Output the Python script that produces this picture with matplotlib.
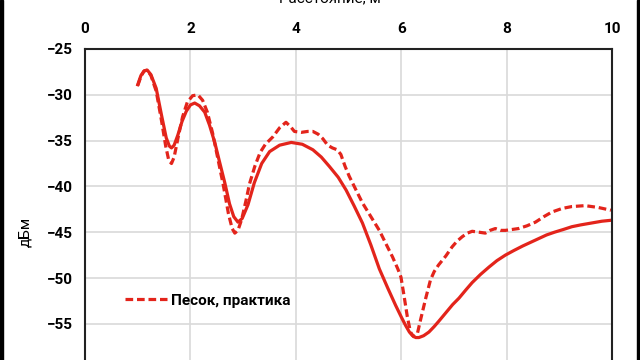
import matplotlib as mpl
mpl.use("Agg")
import matplotlib.pyplot as plt
from matplotlib.patches import Rectangle

# distance, m  /  level, dBm
x_theory = [1.00, 1.06, 1.12, 1.18, 1.25, 1.35, 1.45, 1.54, 1.60, 1.64, 1.69,
            1.76, 1.84, 1.92, 2.00, 2.08, 2.17, 2.27, 2.36, 2.46, 2.55, 2.65,
            2.74, 2.82, 2.90, 2.98, 3.09, 3.21, 3.35, 3.50, 3.69, 3.91, 4.12,
            4.32, 4.48, 4.63, 4.80, 4.95, 5.10, 5.26, 5.42, 5.58, 5.74, 5.89,
            6.00, 6.08, 6.15, 6.21, 6.27, 6.33, 6.42, 6.52, 6.62, 6.71, 6.84,
            6.97, 7.09, 7.22, 7.34, 7.50, 7.66, 7.81, 7.97, 8.13, 8.30, 8.45,
            8.60, 8.75, 8.90, 9.07, 9.23, 9.40, 9.60, 9.80, 9.97]
y_theory = [-28.9, -27.9, -27.4, -27.3, -27.8, -29.3, -32.2, -34.7, -35.6, -35.8,
            -35.5, -34.4, -32.9, -31.8, -31.1, -30.9, -31.2, -31.9, -33.3, -35.2,
            -37.3, -39.6, -41.9, -43.3, -43.9, -43.5, -42.0, -39.6, -37.5, -36.2,
            -35.5, -35.2, -35.4, -36.0, -36.8, -37.8, -39.0, -40.4, -42.1, -44.0,
            -46.4, -49.0, -51.1, -53.0, -54.3, -55.2, -55.9, -56.3, -56.5, -56.5,
            -56.3, -55.9, -55.3, -54.7, -53.8, -52.9, -52.2, -51.3, -50.5, -49.6,
            -48.8, -48.1, -47.5, -47.0, -46.5, -46.1, -45.7, -45.3, -45.0, -44.7,
            -44.4, -44.2, -44.0, -43.8, -43.7]

x_practice = [1.00, 1.06, 1.12, 1.18, 1.25, 1.35, 1.45, 1.53, 1.59, 1.64, 1.69,
              1.76, 1.85, 1.94, 2.04, 2.14, 2.23, 2.32, 2.42, 2.52, 2.62, 2.72,
              2.79, 2.84, 2.90, 2.97, 3.05, 3.12, 3.22, 3.32, 3.42, 3.56, 3.69,
              3.81, 3.90, 3.97, 4.10, 4.22, 4.32, 4.42, 4.51, 4.60, 4.69, 4.78,
              4.85, 4.93, 5.01, 5.13, 5.26, 5.42, 5.58, 5.70, 5.83, 5.93, 5.99,
              6.05, 6.11, 6.17, 6.23, 6.30, 6.36, 6.46, 6.55, 6.62, 6.70, 6.84,
              6.96, 7.05, 7.15, 7.25, 7.34, 7.47, 7.59, 7.68, 7.78, 7.88, 7.97,
              8.10, 8.22, 8.38, 8.54, 8.70, 8.85, 9.05, 9.23, 9.48, 9.73, 9.97]
y_practice = [-29.0, -28.0, -27.4, -27.3, -27.9, -29.6, -32.8, -35.6, -37.2, -37.5,
              -36.8, -34.8, -32.4, -30.8, -30.1, -30.0, -30.6, -31.9, -34.2, -37.0,
              -39.8, -43.0, -44.6, -45.1, -44.8, -43.6, -41.6, -39.7, -37.8, -36.3,
              -35.4, -34.6, -33.6, -33.0, -33.5, -34.0, -34.1, -34.0, -34.0, -34.3,
              -34.8, -35.5, -35.8, -36.0, -36.5, -37.8, -38.9, -40.3, -41.8, -43.3,
              -44.8, -46.2, -47.7, -49.0, -49.9, -52.0, -54.2, -55.9, -56.4, -56.1,
              -54.6, -52.2, -50.2, -49.3, -48.6, -47.6, -46.6, -46.0, -45.5, -45.1,
              -44.9, -45.0, -45.1, -44.8, -44.6, -44.8, -44.8, -44.7, -44.6, -44.3,
              -43.9, -43.3, -42.8, -42.4, -42.2, -42.1, -42.3, -42.6]

x_ticks = [0, 2, 4, 6, 8, 10]
y_ticks = [-25, -30, -35, -40, -45, -50, -55]

RED = "#e3241b"
FS = 10.5

plt.rcParams.update({"font.family": ["Roboto", "DejaVu Sans"], "font.size": FS,
                     "font.weight": "bold"})

fig = plt.figure(figsize=(6.4, 3.6), dpi=100)
ax = fig.add_axes([0.1328, -0.0267, 0.8242, 0.8906])

ax.plot(x_theory, y_theory, color=RED, lw=2.3)
ax.plot(x_practice, y_practice, color=RED, lw=2.3, ls=(0, (2.4, 1.2)),
        label="Песок, практика")

ax.set_xlim(0, 10)
ax.set_ylim(-60, -25)
ax.set_xticks(x_ticks)
ax.set_yticks(y_ticks)
ax.xaxis.tick_top()
ax.xaxis.set_label_position("top")
ax.tick_params(length=0, labelsize=FS + 0.5, pad=9)
ax.grid(True, color="#d9d9d9", lw=1.2)
ax.set_axisbelow(True)
for side in ("left", "top", "right"):
    ax.spines[side].set_linewidth(1.5)
    ax.spines[side].set_color("#222222")

ax.set_xlabel("Расстояние, м", fontsize=FS + 0.5)
ax.xaxis.set_label_coords(0.465, 1.145)
ax.set_ylabel("дБм", fontsize=FS + 0.5)
ax.yaxis.set_label_coords(-0.1, 0.428)

ax.legend(loc="center left", bbox_to_anchor=(0.075, 0.215), frameon=False,
          handlelength=2.75, handletextpad=0.3, borderpad=0, borderaxespad=0,
          prop={"size": FS + 0.5, "weight": "bold"})

# dark screen edges at both sides of the capture
fig.patches.append(Rectangle((0, 0), 3 / 640, 1, transform=fig.transFigure,
                             color="black", zorder=10))
fig.patches.append(Rectangle((637 / 640, 0), 3 / 640, 1, transform=fig.transFigure,
                             color="black", zorder=10))

fig.savefig("out.png", dpi=100)
